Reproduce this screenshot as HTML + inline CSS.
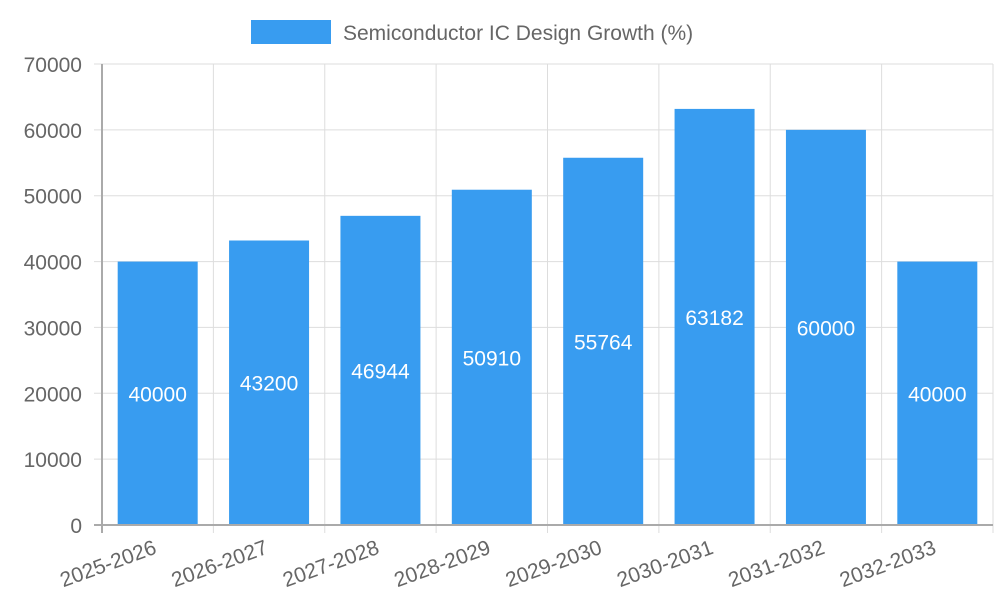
<!DOCTYPE html>
<html><head><meta charset="utf-8"><style>
body{margin:0;background:#fff;}
svg text{font-family:"Liberation Sans",sans-serif;}
</style></head><body>
<svg width="1000" height="600" viewBox="0 0 1000 600">
<g>
<rect x="251" y="20" width="80" height="24" fill="#389cf0"/>
<text x="343" y="40" font-size="21" fill="#666">Semiconductor IC Design Growth (%)</text>
</g>
<g id="grid"></g>
<g id="bars"></g>
<g id="axes"></g>
</svg>
<script>
const categories=["2025-2026","2026-2027","2027-2028","2028-2029","2029-2030","2030-2031","2031-2032","2032-2033"];
const values=[40000,43200,46944,50910,55764,63182,60000,40000];
const yTicks=[0,10000,20000,30000,40000,50000,60000,70000];
const NS="http://www.w3.org/2000/svg";
const L=102,R=993,T=64,B=525,YMAX=70000;
const bw=(R-L)/categories.length;
const y=v=>B-(v/YMAX)*(B-T);
const x=i=>L+bw*i;
function mk(t,a,p){const e=document.createElementNS(NS,t);for(const k in a)e.setAttribute(k,a[k]);p.appendChild(e);return e;}
const grid=document.getElementById('grid'),bars=document.getElementById('bars'),axes=document.getElementById('axes');
yTicks.forEach(v=>{
 const ln=mk('line',{x1:94,x2:R,y1:y(v),y2:y(v),stroke:v===0?'#aaa':'#ddd','stroke-width':v===0?2:1},v===0?axes:grid);
 
 
 const t=mk('text',{x:82,y:y(v)+8,'text-anchor':'end','font-size':21,fill:'#666'},axes);
 t.textContent=v;
 
 
});
for(let i=0;i<=categories.length;i++){
 const ln=mk('line',{x1:x(i),x2:x(i),y1:T,y2:533,stroke:i===0?'#aaa':'#ddd','stroke-width':i===0?2:1},i===0?axes:grid);
 
 
}
categories.forEach((c,i)=>{
 const cx=x(i)+bw/2;
 const r=mk('rect',{x:cx-40,y:y(values[i]),width:80,height:B-y(values[i]),fill:'#389cf0'},bars);
 
 
 const vt=mk('text',{x:cx,y:(y(values[i])+B)/2+8,'text-anchor':'middle','font-size':21,fill:'#fff'},bars);
 vt.textContent=values[i];
 
 
 const lt=mk('text',{x:0,y:0,'text-anchor':'end','font-size':21,fill:'#666',transform:`translate(${cx},${553}) rotate(-20)`},axes);
 lt.textContent=c;
 
 
});
</script>
</body></html>
